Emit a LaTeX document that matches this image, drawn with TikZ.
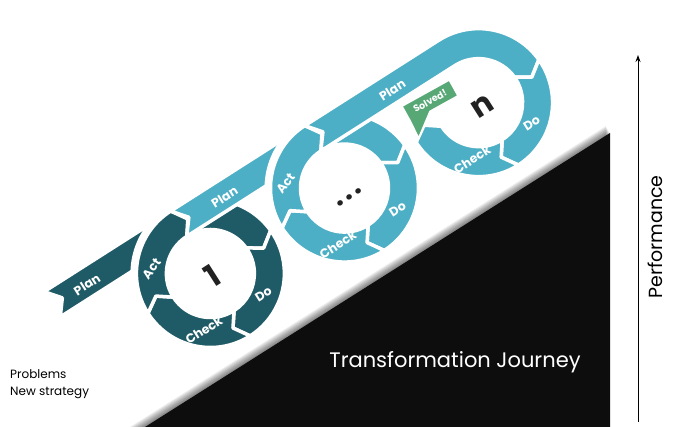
\documentclass[tikz,border=0pt]{standalone}
\usepackage{fontspec}
\setmainfont{Poppins}
\usepackage{tikz}
\usetikzlibrary{arrows.meta}
\definecolor{cycledark}{RGB}{31,91,103}
\definecolor{cyclelight}{RGB}{76,175,197}
\definecolor{solvedgreen}{RGB}{88,168,118}
\definecolor{rampblack}{RGB}{13,13,13}
\definecolor{digitgray}{RGB}{34,34,34}
\newcommand{\ringin}{44}
\newcommand{\ringmid}{59}
\newcommand{\ringout}{74}
\newcommand{\ringcut}{80}
\newcommand{\tipang}{10}
% one chevron piece of a wheel, from angle #1 clockwise to angle #2
\newcommand{\pdcaseg}[3]{%
  \fill[#3,segline] (#1:\ringin) -- ({#1-\tipang}:\ringmid) -- (#1:\ringout)
    arc[start angle=#1,end angle=#2,radius=\ringout]
    -- ({#2-\tipang}:\ringmid) -- (#2:\ringin)
    arc[start angle=#2,end angle=#1,radius=\ringin] -- cycle;%
}
% straight plan band from x=#1 to the top of the wheel, then round to angle #2
\newcommand{\planband}[3]{%
  \fill[#3,segline] (#1,\ringin) -- ({#1+12},\ringmid) -- (#1,\ringout) -- (0,\ringout)
    arc[start angle=90,end angle=#2,radius=\ringout]
    -- ({#2-\tipang}:\ringmid) -- (#2:\ringin)
    arc[start angle=#2,end angle=90,radius=\ringin] -- cycle;%
}
\newcommand{\ringgap}{%
  \fill[white] (0,0) -- (90:\ringcut) arc[start angle=90,end angle=180,radius=\ringcut] -- cycle;%
}

\begin{document}
\begin{tikzpicture}[x=1pt,y=1pt,
  segline/.style={draw=white,line width=3.5pt,line join=round},
  seglabel/.style={text=white,font=\bfseries\fontsize{12.5}{14}\selectfont,inner sep=0pt}]
  \fill[white] (0,0) rectangle (683,427);
  \useasboundingbox (0,0) rectangle (683,427);
  \clip (0,0) rectangle (683,427);
  % ramp with a soft edge
  \foreach \s in {8,7,...,1}
    \fill[black,opacity=0.07,shift={(-0.53*\s,0.85*\s)}] (113.4,-20) -- (610,294) -- (610,-20) -- cycle;
  \fill[rampblack] (113.4,-20) -- (610,294) -- (610,-20) -- cycle;
  \begin{scope}[shift={(210.4,153.5)},rotate=32.5,transform shape]
    \foreach \cx/\tail/\col in {0/-150/cycledark,159/-159/cyclelight}{
      \begin{scope}[shift={(\cx,0)}]
        \planband{\tail}{3}{\col}
        \ringgap
        \pdcaseg{3}{-90}{\col}
        \pdcaseg{-90}{-180}{\col}
        \pdcaseg{180}{90}{\col}
      \end{scope}
    }
    \begin{scope}[shift={(318,0)}]
      \planband{-159}{3}{cyclelight}
      \pdcaseg{3}{-90}{cyclelight}
      \pdcaseg{-90}{-180}{cyclelight}
    \end{scope}
    \node[seglabel] (plan1) at (-110,57) {Plan};
    \node[seglabel] (plan2) at (53,57) {Plan};
    \node[seglabel] (plan3) at (252,57) {Plan};
    \foreach \cx/\k in {0/1,159/2,318/3}{
      \begin{scope}[shift={(\cx,0)}]
        \node[seglabel] (do\k) at (-54:57) {Do};
        \node[seglabel] (check\k) at (-129:57) {Check};
      \end{scope}
    }
    \node[seglabel,rotate=20] (act1) at (143:59) {Act};
    \begin{scope}[shift={(159,0)}]
      \node[seglabel,rotate=20] (act2) at (143:59) {Act};
    \end{scope}
    \node[text=digitgray,font=\bfseries\fontsize{31}{33}\selectfont] (num1) at (0,-3) {1};
    \node[text=digitgray,font=\bfseries\fontsize{28}{30}\selectfont,anchor=base] (dots) at (158,-13) {.\kern3pt.\kern3pt.};
    \node[text=digitgray,font=\bfseries\fontsize{31}{33}\selectfont] (numn) at (319,-5) {n};
  \end{scope}
  % solved callout
  \begin{scope}[shift={(430,326)},rotate=29,transform shape]
    \fill[solvedgreen,draw=white,line width=1.5pt,line join=round] (-27,9) -- (27,9) -- (27,-9) -- (-5,-9) -- (-28,-27) -- (-27,-9) -- cycle;
    \node[text=white,font=\bfseries\fontsize{9.5}{11}\selectfont] (solved) at (0,0) {Solved!};
  \end{scope}
  \node[text=white,font=\fontsize{21}{24}\selectfont] (journey) at (455,65) {Transformation Journey};
  \node[align=left,anchor=west,inner sep=0pt,font=\fontsize{12}{17}\selectfont] (notes) at (10,43) {Problems\\New strategy};
  \coordinate (perfbase) at (638,5);
  \coordinate (perftip) at (638,372);
  \draw[-{Stealth[length=7pt,width=5pt]},line width=0.9pt] (perfbase) -- (perftip);
  \node[rotate=90,font=\fontsize{19}{22}\selectfont] (perf) at (655,190) {Performance};
\end{tikzpicture}
\end{document}
